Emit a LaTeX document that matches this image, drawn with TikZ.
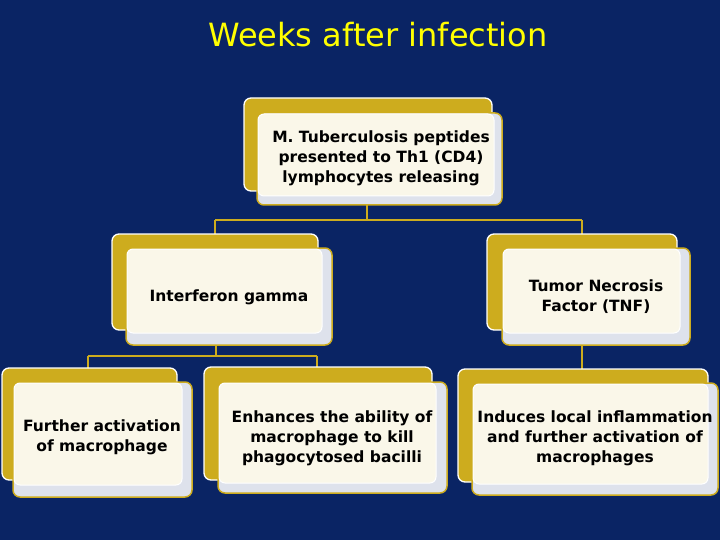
\documentclass[tikz,border=0pt]{standalone}
\usepackage{fontspec}
\setmainfont{DejaVu Sans}
\definecolor{navy}{RGB}{10,36,100}
\definecolor{gold}{RGB}{205,172,30}
\definecolor{cream}{RGB}{250,247,233}
\definecolor{paleblue}{RGB}{222,226,236}
\definecolor{titleyellow}{RGB}{255,255,0}
\tikzset{
  backbox/.style={draw=white, line width=1.3pt, fill=gold, rounded corners=7pt},
  frontbox/.style={draw=gold, line width=1.5pt, fill=paleblue, rounded corners=7pt},
  innerbox/.style={draw=white, line width=1pt, fill=cream, rounded corners=6pt},
  label/.style={align=center, font=\fontsize{15.5}{20}\selectfont\bfseries, text=black},
  conn/.style={draw=gold, line width=2.2pt}
}
\begin{document}
\begin{tikzpicture}[x=1pt,y=-1pt]
\fill[navy] (0,0) rectangle (720,540);
\useasboundingbox (0,0) rectangle (720,540);
\node[text=titleyellow, font=\fontsize{32}{36}\selectfont] (title) at (378,35) {Weeks after infection};

% connectors (behind boxes)
\coordinate (c1) at (367,220);
\coordinate (c2) at (216,356);
\draw[conn] (367,205) -- (c1);
\draw[conn] (215,220) -- (582,220);
\draw[conn] (215,220) -- (215,236);
\draw[conn] (582,220) -- (582,236);
\draw[conn] (216,345) -- (c2);
\draw[conn] (88,356) -- (317,356);
\draw[conn] (88,356) -- (88,370);
\draw[conn] (317,356) -- (317,370);
\draw[conn] (582,345) -- (582,371);

% top
\path[backbox] (244,98) rectangle (492,191);
\path[frontbox] (257,113) rectangle (502,205);
\path[innerbox] (258,114) rectangle (494,196);
\node[label] (top) at (381,158) {M. Tuberculosis peptides\\presented to Th1 (CD4)\\lymphocytes releasing};

% mid left
\path[backbox] (112,234) rectangle (318,330);
\path[frontbox] (126,248) rectangle (332,345);
\path[innerbox] (127,249) rectangle (322,333);
\node[label] (ifn) at (229,297) {Interferon gamma};

% mid right
\path[backbox] (487,234) rectangle (677,330);
\path[frontbox] (502,248) rectangle (690,345);
\path[innerbox] (503,249) rectangle (680,333);
\node[label] (tnf) at (596,297) {Tumor Necrosis\\Factor (TNF)};

% bottom left
\path[backbox] (2,368) rectangle (177,480);
\path[frontbox] (13,382) rectangle (192,497);
\path[innerbox] (14,383) rectangle (182,485);
\node[label] (fam) at (102,437) {Further activation\\of macrophage};

% bottom mid
\path[backbox] (204,367) rectangle (432,480);
\path[frontbox] (218,382) rectangle (447,493);
\path[innerbox] (219,383) rectangle (436,483);
\node[label] (enh) at (332,438) {Enhances the ability of\\macrophage to kill\\phagocytosed bacilli};

% bottom right
\path[backbox] (458,369) rectangle (708,482);
\path[frontbox] (472,383) rectangle (718,495);
\path[innerbox] (473,384) rectangle (708,484);
\node[label] (ind) at (595,438) {Induces local inflammation\\and further activation of\\macrophages};
\end{tikzpicture}
\end{document}
